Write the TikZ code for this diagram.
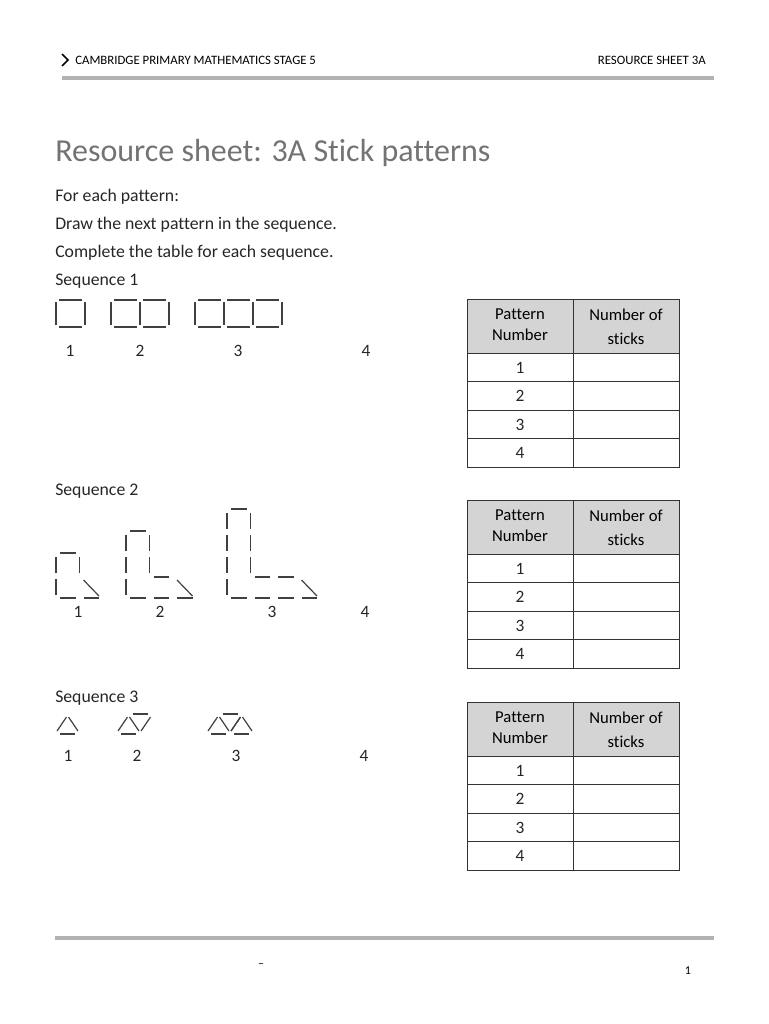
\documentclass[tikz,border=0pt]{standalone}
\usepackage{fontspec}
\setmainfont[Ligatures=NoCommon]{Carlito}
\begin{document}
\begin{tikzpicture}[x=0.75pt,y=-0.75pt,
  txt/.style={anchor=west,inner sep=0pt,font=\fontsize{13.3}{15}\selectfont,text=black!85},
  num/.style={inner sep=0pt,font=\fontsize{13}{15}\selectfont,text=black!85},
  stick/.style={line width=0.9pt,black!75},
  bar/.style={line width=3pt,black!30}]
\useasboundingbox (0,0) rectangle (768,1024);
% header
\draw[line width=1.2pt] (62,54) -- (68,60) -- (62,66);
\node[anchor=west,inner sep=0pt,font=\fontsize{9.6}{11}\selectfont] (hd) at (75,60) {CAMBRIDGE PRIMARY MATHEMATICS STAGE 5};
\node[anchor=east,inner sep=0pt,font=\fontsize{9.6}{11}\selectfont] (rs) at (706,60) {RESOURCE SHEET 3A};
\draw[bar] (62,78) -- (714,78);
\draw[bar] (55,938) -- (714,938);
\node[inner sep=0pt,font=\fontsize{9}{9}\selectfont] (dash) at (261,966) {–};
\node[inner sep=0pt,font=\fontsize{9}{9}\selectfont] (pg) at (688,971) {1};
% title and text
\node[anchor=west,inner sep=0pt,font=\fontsize{24}{28}\selectfont,text=black!55] (title) at (55,153) {Resource sheet: 3A Stick patterns};
\node[txt] (t1) at (55,197) {For each pattern:};
\node[txt] (t2) at (55,225) {Draw the next pattern in the sequence.};
\node[txt] (t3) at (55,253) {Complete the table for each sequence.};
\node[txt] (s1) at (55,281) {Sequence 1};
\node[txt] (s2) at (55,491) {Sequence 2};
\node[txt] (s3) at (55,698) {Sequence 3};
% sequence 1
\foreach \xo/\n in {56/1,111/2,195/3}{
  \foreach \k in {1,...,\n}{
    \pgfmathsetmacro{\a}{\xo+29*(\k-1)}
    \draw[stick] (\a+3,300) -- (\a+26,300);
    \draw[stick] (\a+3,327) -- (\a+26,327);
  }
  \foreach \k in {0,...,\n}{
    \pgfmathsetmacro{\a}{\xo+29*\k}
    \draw[stick] (\a,302) -- (\a,325);
  }
}
\foreach \x/\l in {70/1,140/2,238/3,366/4}{\node[num] (a\l) at (\x,351) {\l};}
% sequence 2
\def\cw{23.5}\def\ch{22}
\foreach \xo/\n in {56/1,126/2,227/3}{
  \foreach \j in {0,...,\n}{\draw[stick] (\xo,598-\ch*\j-3) -- (\xo,598-\ch*\j-\ch+3);}
  \draw[stick] (\xo+4,598-\ch*\n-\ch-1) -- (\xo+\cw-4,598-\ch*\n-\ch-1);
  \foreach \j in {1,...,\n}{\draw[stick] (\xo+\cw,598-\ch*\j-3) -- (\xo+\cw,598-\ch*\j-\ch+3);}
  \foreach \k in {0,...,\n}{\draw[stick] (\xo+\cw*\k+4,598) -- (\xo+\cw*\k+\cw-4,598);}
  \ifnum\n>1
    \foreach \k in {1,...,\numexpr\n-1\relax}{\draw[stick] (\xo+\cw*\k+4,577) -- (\xo+\cw*\k+\cw-4,577);}
  \fi
  \draw[stick] (\xo+\cw*\n+4,580) -- (\xo+\cw*\n+\cw-4,596);
}
\foreach \x/\l in {78/1,160/2,272/3,365/4}{\node[num] (b\l) at (\x,612) {\l};}
% sequence 3
\def\hw{11.5}
\foreach \xo/\n in {56/1,117/2,207/3}{
  \foreach \k in {1,...,\n}{
    \pgfmathsetmacro{\a}{\xo+\hw*(\k-1)}
    \ifodd\k
      \draw[stick] (\a+1,731) -- (\a+\hw-1,717);
      \draw[stick] (\a+4,734) -- (\a+2*\hw-4,734);
      \draw[stick] (\a+\hw+1,717) -- (\a+2*\hw-1,731);
    \else
      \draw[stick] (\a+4,714) -- (\a+2*\hw-4,714);
      \draw[stick] (\a+\hw+1,731) -- (\a+2*\hw-1,717);
    \fi
  }
}
\foreach \x/\l in {68/1,137/2,236/3,364/4}{\node[num] (c\l) at (\x,756) {\l};}
% tables
\foreach \ty/\tn in {299/p,500/q,702/r}{
  \fill[black!17] (467,\ty) rectangle (679,\ty+54);
  \draw[black!80,line width=0.6pt] (467,\ty) rectangle (679,\ty+168);
  \draw[black!80,line width=0.6pt] (573,\ty) -- (573,\ty+168);
  \foreach \r in {0,1,2,3}{\draw[black!80,line width=0.6pt] (467,\ty+54+28.5*\r) -- (679,\ty+54+28.5*\r);}
  \node[align=center,inner sep=0pt,font=\fontsize{12.5}{15.5}\selectfont] (\tn h1) at (520,\ty+26) {Pattern\\Number};
  \node[align=center,inner sep=0pt,font=\fontsize{12.5}{18}\selectfont] (\tn h2) at (626,\ty+28) {Number of\\sticks};
  \foreach \r in {1,2,3,4}{\node[num] (\tn\r) at (520,\ty+54+28.5*\r-14) {\r};}
}
\end{tikzpicture}
\end{document}
